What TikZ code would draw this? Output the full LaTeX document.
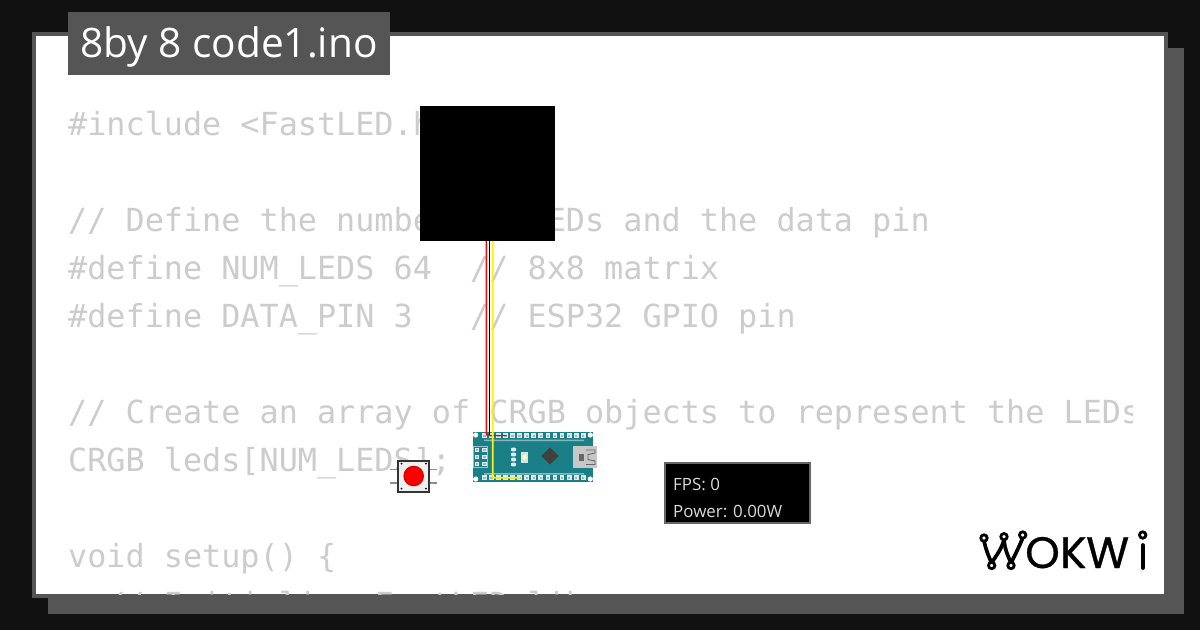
\documentclass[tikz,border=0pt]{standalone}
\usepackage{fontspec}
\setmainfont{Open Sans}
\setmonofont{DejaVu Sans Mono}
\newfontfamily\logofont[FakeBold=0.7]{Poppins}
\usetikzlibrary{positioning}
\definecolor{bg_dark}{HTML}{111111}
\definecolor{frame_grey}{HTML}{555555}
\definecolor{code_grey}{HTML}{CCCCCC}
\definecolor{nano_teal}{HTML}{1B7F88}
\tikzset{
        % Listing behind the parts
        code_line/.style={anchor=base west,inner sep=0pt,text=code_grey,font=\ttfamily\fontsize{31.8}{32}\selectfont},
        % File name tab
        title_tab/.style={fill=frame_grey,inner sep=0pt,minimum width=322pt,minimum height=63pt},
        title_text/.style={anchor=base,inner sep=0pt,text=white,font=\fontsize{40.6}{41}\selectfont},
        % LED matrix
        node_matrix/.style={fill=black,inner sep=0pt,minimum width=135pt,minimum height=135pt},
        % Arduino board
        node_nano/.style={fill=nano_teal,inner sep=0pt,minimum width=120.6pt,minimum height=49.4pt},
        % Header pin
        node_pin/.style={fill=black!30,draw=white!85!nano_teal,line width=1.2pt,inner sep=0pt,minimum size=3.6pt},
        % Simulation readout
        node_readout/.style={fill=black,draw=black!60,line width=2pt,inner sep=0pt,minimum width=145pt,minimum height=60pt},
        readout_text/.style={anchor=base west,inner sep=0pt,text=white!85!black,font=\fontsize{16.9}{17}\selectfont},
        % Wires
        wire_core/.style={line width=1.4pt,rounded corners=2pt},
        % Logo strokes
        logo_line/.style={line width=3.7pt,line cap=round,line join=round},
        logo_text/.style={anchor=base west,inner sep=0pt,font=\logofont\fontsize{44}{44}\selectfont}
}
\begin{document}
\begin{tikzpicture}[x=1pt,y=-1pt]
    \useasboundingbox (0,0) rectangle (1200,630);
    \fill[bg_dark] (0,0) rectangle (1200,630);
    \fill[frame_grey] (48,48) rectangle (1184,614);
    \fill[frame_grey] (32,32) rectangle (1168,598);
    \fill[white] (36,36) rectangle (1164,594);
    % code listing
    \begin{scope}
        \clip (36,36) rectangle (1132,594);
        \foreach \ypos/\codetext in {
            135/{\#include <FastLED.h>},
            231/{// Define the number of LEDs and the data pin},
            279/{\#define NUM\_LEDS 64\ \ // 8x8 matrix},
            327/{\#define DATA\_PIN 3\ \ \ // ESP32 GPIO pin},
            423/{// Create an array of CRGB objects to represent the LEDs},
            471/{CRGB leds[NUM\_LEDS];},
            567/{void setup() \{},
            615/{\ \ // Initialize FastLED library}}
            \node[code_line] (code\ypos) at (68,\ypos) {\codetext};
    \end{scope}
    \node[title_tab] (title) at (229,43.5) {};
    \node[title_text] (title_label) at (229,57) {8by 8 code1.ino};
    % parts
    \node[node_matrix] (matrix) at (487.5,173.5) {};
    \node[node_nano] (nano) at (533,457) {};
    \fill[white!45!nano_teal] (484,439.5) rectangle (584,441) (484,473) rectangle (584,474.5);
    \foreach \xpos in {0,...,14} {
        \node[node_pin] (pt\xpos) at (484.3+\xpos*7.07,435.7) {};
        \node[node_pin] (pb\xpos) at (484.3+\xpos*7.07,477.7) {};
    }
    \foreach \xpos/\ypos in {475.7/435,590.3/435,475.7/479,590.3/479}
        \fill[white] (\xpos,\ypos) circle (2.6);
    \draw[white!55!nano_teal,line width=.6pt] (473.5,446.7) rectangle (487.3,467.3);
    \foreach \xpos in {477,484.3}
        \foreach \ypos in {450,457,464}
            \node[node_pin] at (\xpos,\ypos) {};
    \foreach \ypos in {449.5,454.5,459.5,464.5}
        \fill[white!85!nano_teal,rounded corners=1pt] (511,\ypos-1.8) rectangle (516,\ypos+1.8);
    \fill[white!80!nano_teal] (520.7,451.7) rectangle (528.3,462.7);
    \fill[yellow!30] (524.5,457.2) circle (2.4);
    \fill[black!75] (550,447.3) -- (558.7,456) -- (550,464.7) -- (541.3,456) -- cycle;
    \fill[black!22] (572.7,446) rectangle (596.7,468.3);
    \fill[black!60] (579,453.5) rectangle (584,461);
    \draw[black!60,line width=.9pt] (586,450) -- (595,450) -- (595,453) -- (588,454.5) -- (588,459.5) -- (595,461) -- (595,464.5) -- (586,464.5);
    % wires
    \coordinate (wire_a) at (486.3,241);
    \coordinate (wire_b) at (489.5,241);
    \coordinate (wire_c) at (492.7,241);
    \coordinate (pin_a) at (489.5,435.5);
    \coordinate (pin_b) at (506.7,435.5);
    \coordinate (pin_c) at (520,477.7);
    \draw[wire_core,black] (wire_b) -- (pin_a);
    \draw[wire_core,red] (wire_a) |- (pin_b);
    \draw[wire_core,yellow,line width=1.9pt] (wire_c) |- (pin_c);
    % push button
    \draw[black!45,line width=1.8pt] (390,469.5) -- (437,469.5) (390,483.3) -- (437,483.3);
    \node[fill=black!6,draw=black!80,line width=2pt,inner sep=0pt,minimum size=31pt] (button) at (413.7,476) {};
    \foreach \xpos/\ypos in {401.5/463.5,426/463.5,401.5/488.5,426/488.5}
        \fill[black] (\xpos,\ypos) circle (1);
    \fill[red!85!black] (button.center) circle (10.3);
    \fill[red] (button.center) circle (8.6);
    % readout
    \node[node_readout] (fps) at (737.5,493) {};
    \node[readout_text] (fps_line) at (673,490) {FPS: 0};
    \node[readout_text] (power_line) at (673,517) {Power: 0.00W};
    % logo
    \draw[logo_line] (984,541) .. controls (986,550) and (989,557) .. (991.5,563);
    \draw[logo_line] (991.5,563) .. controls (996,556) and (1001,550) .. (1004,540);
    \draw[logo_line] (1004,540) .. controls (1005,550) and (1008,556) .. (1011,563);
    \draw[logo_line] (1011,563) .. controls (1015,555) and (1019,547) .. (1022.7,538);
    \foreach \xpos/\ypos in {984/538,1004/536.7,1022.7/535,991.7/565.5,1011/565.5,1142.7/535}
        \draw[line width=2.8pt,fill=white] (\xpos,\ypos) circle (3.2);
    \node[logo_text] (logo_o) at (1025,568) {O};
    \node[logo_text] (logo_k) at (1060,568) {K};
    \node[logo_text] (logo_w) at (1086,568) {W};
    \draw[logo_line] (1142.7,545) -- (1142.7,568);
\end{tikzpicture}
\end{document}
